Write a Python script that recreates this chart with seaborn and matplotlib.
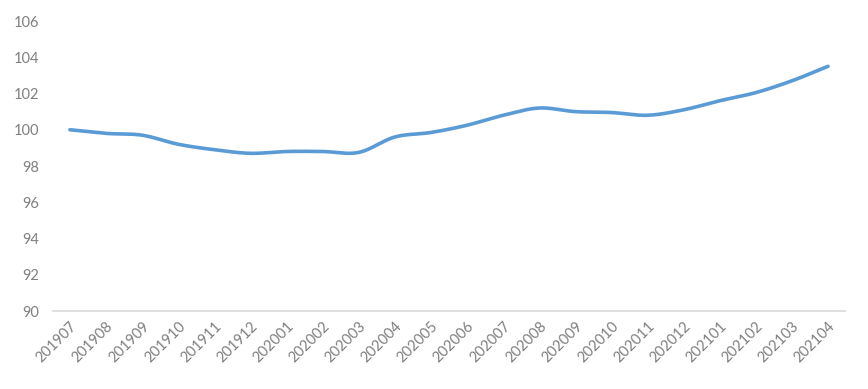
import numpy as np
import pandas as pd
import matplotlib
matplotlib.use("Agg")
import matplotlib.pyplot as plt
import seaborn as sns

months = ["201907", "201908", "201909", "201910", "201911", "201912",
          "202001", "202002", "202003", "202004", "202005", "202006",
          "202007", "202008", "202009", "202010", "202011", "202012",
          "202101", "202102", "202103", "202104"]
values = [100.0, 99.8, 99.7, 99.2, 98.9, 98.7,
          98.8, 98.8, 98.75, 99.6, 99.85, 100.25,
          100.8, 101.2, 101.0, 100.95, 100.8, 101.1,
          101.6, 102.05, 102.7, 103.5]
yticks = [90, 92, 94, 96, 98, 100, 102, 104, 106]

sns.set_style("white")
plt.rcParams["font.family"] = ["Lato", "DejaVu Sans"]

df = pd.DataFrame({"month": months, "value": values})
df["pos"] = np.arange(len(df))

fig = plt.figure(figsize=(8.68, 3.89), dpi=100)
ax = fig.add_axes([0.061, 0.2005, 0.9125, 0.7455])

# Smoothed curve (Catmull-Rom) through the data points
x = df["pos"].to_numpy(dtype=float)
y = df["value"].to_numpy(dtype=float)
px = np.concatenate([[2 * x[0] - x[1]], x, [2 * x[-1] - x[-2]]])
py = np.concatenate([[2 * y[0] - y[1]], y, [2 * y[-1] - y[-2]]])
sx, sy = [], []
t = np.linspace(0, 1, 20, endpoint=False)
for i in range(1, len(px) - 2):
    p0, p1, p2, p3 = py[i - 1], py[i], py[i + 1], py[i + 2]
    q0, q1, q2, q3 = px[i - 1], px[i], px[i + 1], px[i + 2]
    def cr(a0, a1, a2, a3):
        return 0.5 * ((2 * a1) + (-a0 + a2) * t + (2 * a0 - 5 * a1 + 4 * a2 - a3) * t ** 2
                      + (-a0 + 3 * a1 - 3 * a2 + a3) * t ** 3)
    sx.extend(cr(q0, q1, q2, q3))
    sy.extend(cr(p0, p1, p2, p3))
sx.append(x[-1]); sy.append(y[-1])
smooth = pd.DataFrame({"pos": sx, "value": sy})

sns.lineplot(data=smooth, x="pos", y="value", ax=ax, color="#5B9BD5",
             linewidth=2.6, sort=False, solid_capstyle="round")

ax.set_xlim(-0.47, len(months) - 0.53)
ax.set_ylim(90, 106)
ax.set_yticks(yticks)
ax.set_yticklabels([str(v) for v in yticks])
ax.set_xticks(df["pos"])
ax.set_xticklabels(months, rotation=45, ha="right", rotation_mode="anchor")
ax.tick_params(axis="both", colors="#7f7f7f", labelsize=10.5, length=0, pad=6)
ax.tick_params(axis="y", pad=10)
ax.set_xlabel("")
ax.set_ylabel("")
for s in ["top", "right", "left"]:
    ax.spines[s].set_visible(False)
ax.spines["bottom"].set_color("#d9d9d9")
ax.spines["bottom"].set_linewidth(1.2)
ax.grid(False)

fig.savefig("out.png", dpi=100)
